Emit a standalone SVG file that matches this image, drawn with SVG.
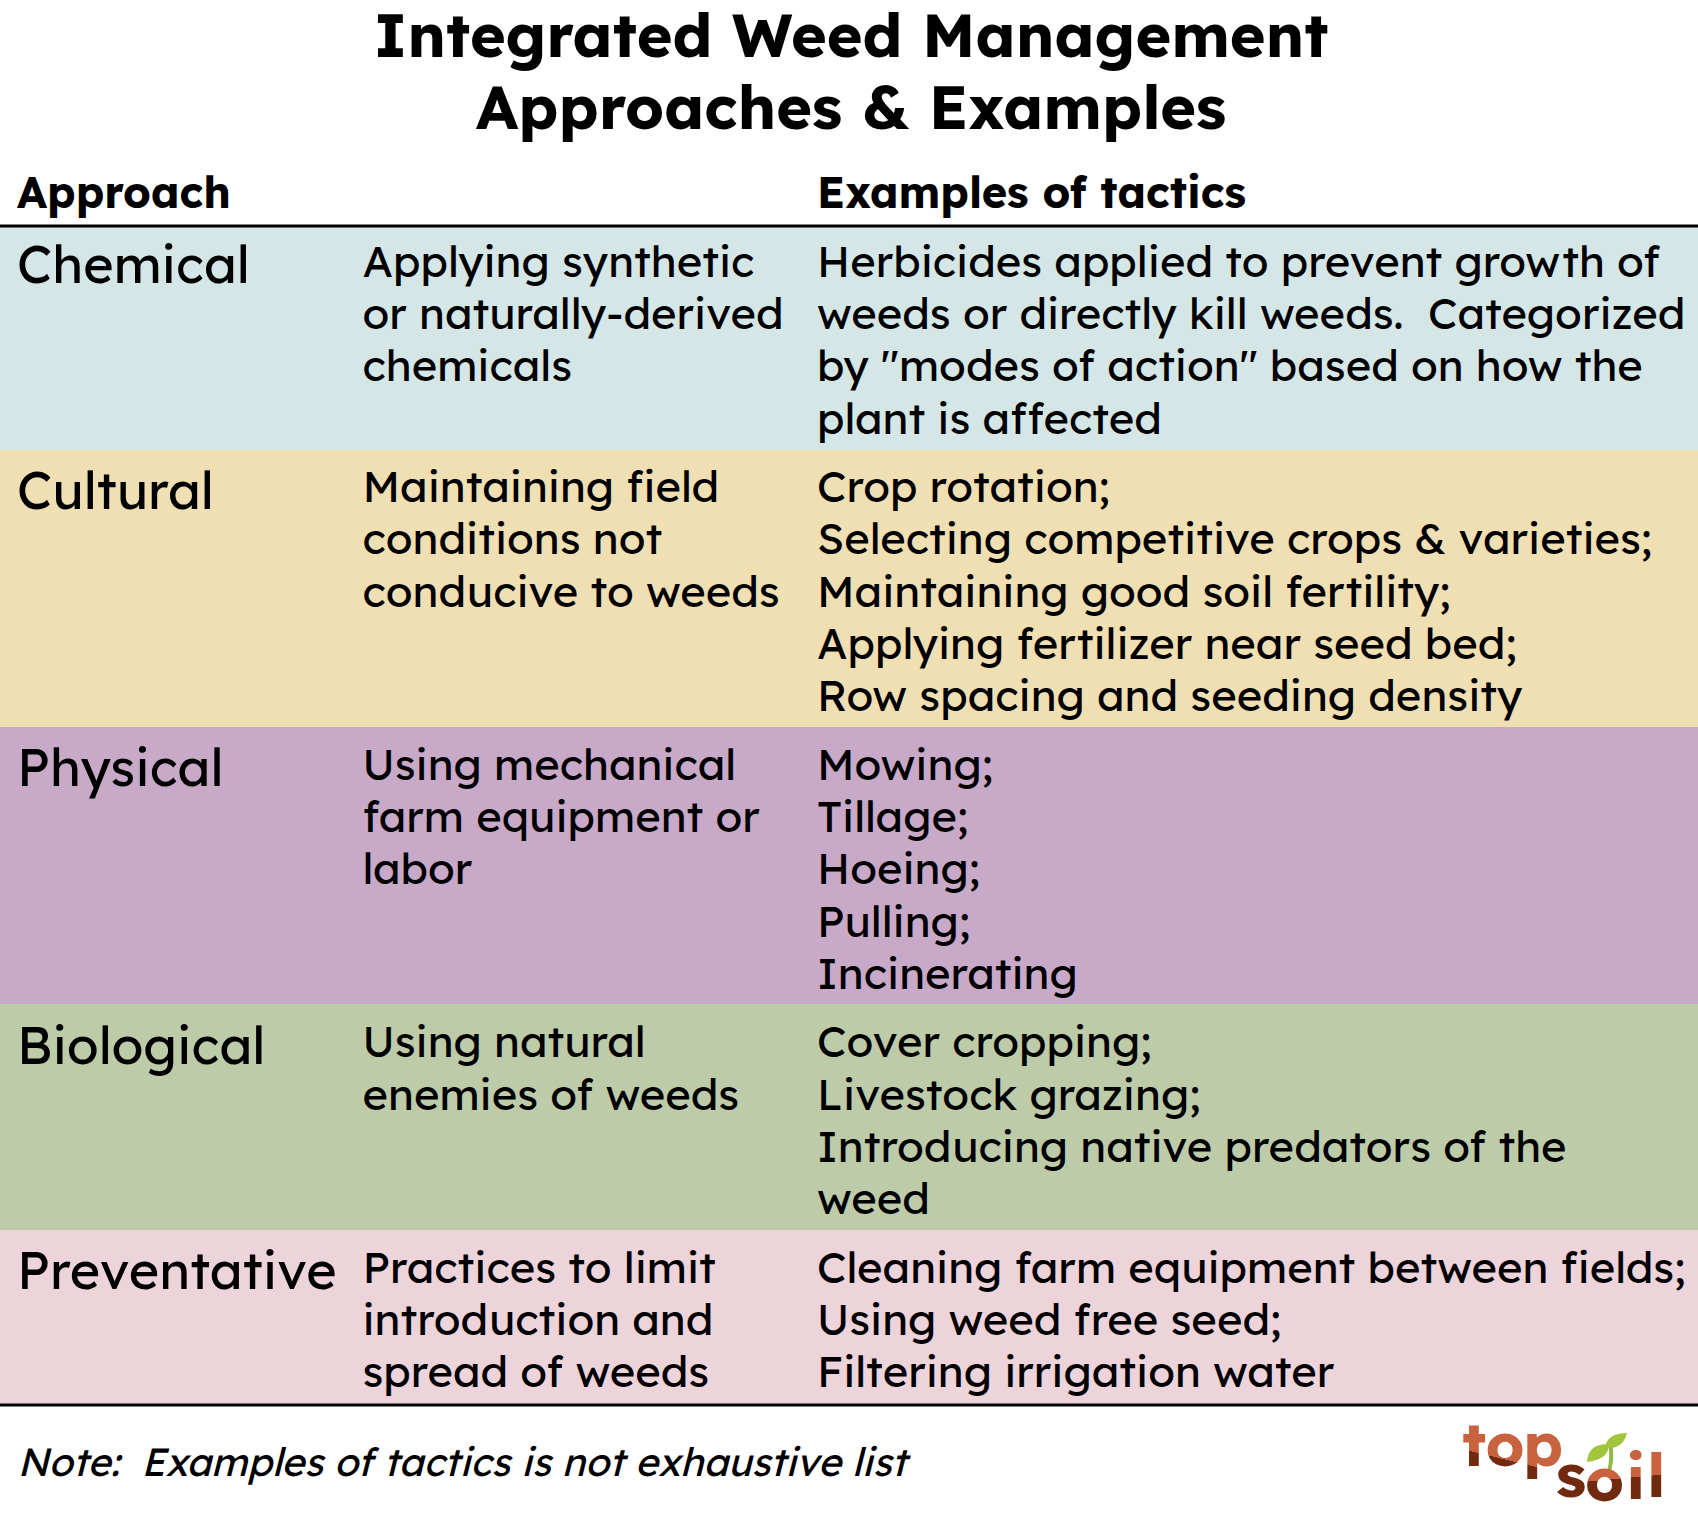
<svg xmlns="http://www.w3.org/2000/svg" width="1698" height="1520" viewBox="0 0 1698 1520">
<style>
text{font-family:"Lexend","Noto Sans","Open Sans",sans-serif;fill:#000}
.t{font-size:61px;font-weight:700;text-anchor:middle}
.h{font-size:43.4px;font-weight:700}
.a{font-size:52px}
.b{font-size:43.55px}
.n{font-size:39.2px;font-style:italic}
.rule{stroke:#000;stroke-width:3}
.logo{font-size:61px;font-weight:700}
.leaf{fill:#a3c53e}
</style>
<defs>
<linearGradient id="soilTop" gradientUnits="userSpaceOnUse" x1="1507" y1="1460" x2="1500" y2="1489"><stop offset="0" stop-color="#c8623f"/><stop offset="0" stop-color="#6f2a10"/></linearGradient>
<linearGradient id="soilOil" gradientUnits="userSpaceOnUse" x1="1625" y1="1478" x2="1627" y2="1500"><stop offset="0" stop-color="#c8623f"/><stop offset="0" stop-color="#6f2a10"/></linearGradient>
</defs>
<rect width="1698" height="1520" fill="#fff"/>
<text class="t" x="851" y="57">Integrated Weed Management</text>
<text class="t" x="851" y="129">Approaches &amp; Examples</text>
<text class="h" x="17" y="208">Approach</text>
<text class="h" x="817" y="208">Examples of tactics</text>
<rect y="226" width="1698" height="224" fill="#d5e6e6"/>
<rect y="450" width="1698" height="277" fill="#f0dfb2"/>
<rect y="727" width="1698" height="277" fill="#c8a9c8"/>
<rect y="1004" width="1698" height="226" fill="#bdcba8"/>
<rect y="1230" width="1698" height="175" fill="#edd3da"/>
<line class="rule" x1="0" y1="226" x2="1698" y2="226"/>
<line class="rule" x1="0" y1="1405" x2="1698" y2="1405"/>
<g id="chemical"><text class="a" x="17" y="283">Chemical</text>
<text class="b" x="362.5" y="276.5">Applying synthetic</text><text class="b" x="362.5" y="328.5">or naturally-derived</text><text class="b" x="362.5" y="380.5">chemicals</text>
<text class="b" x="817" y="276.5">Herbicides applied to prevent growth of</text><text class="b" x="817" y="328.5" xml:space="preserve">weeds or directly kill weeds.  Categorized</text><text class="b" x="817" y="380.5">by "modes of action" based on how the</text><text class="b" x="817" y="433.5">plant is affected</text></g>
<g id="cultural"><text class="a" x="17" y="509">Cultural</text>
<text class="b" x="362.5" y="501.5">Maintaining field</text><text class="b" x="362.5" y="553.5">conditions not</text><text class="b" x="362.5" y="606.5">conducive to weeds</text>
<text class="b" x="817" y="501.5">Crop rotation;</text><text class="b" x="817" y="553.5">Selecting competitive crops &amp; varieties;</text><text class="b" x="817" y="606.5">Maintaining good soil fertility;</text><text class="b" x="817" y="658.5">Applying fertilizer near seed bed;</text><text class="b" x="817" y="710.5">Row spacing and seeding density</text></g>
<g id="physical"><text class="a" x="17" y="786">Physical</text>
<text class="b" x="362.5" y="779.5">Using mechanical</text><text class="b" x="362.5" y="831.5">farm equipment or</text><text class="b" x="362.5" y="883.5">labor</text>
<text class="b" x="817" y="779.5">Mowing;</text><text class="b" x="817" y="831.5">Tillage;</text><text class="b" x="817" y="883.5">Hoeing;</text><text class="b" x="817" y="936.5">Pulling;</text><text class="b" x="817" y="988.5">Incinerating</text></g>
<g id="biological"><text class="a" x="17" y="1064">Biological</text>
<text class="b" x="362.5" y="1056.5">Using natural</text><text class="b" x="362.5" y="1109.5">enemies of weeds</text>
<text class="b" x="817" y="1056.5">Cover cropping;</text><text class="b" x="817" y="1109.5">Livestock grazing;</text><text class="b" x="817" y="1161.5">Introducing native predators of the</text><text class="b" x="817" y="1213.5">weed</text></g>
<g id="preventative"><text class="a" x="17" y="1289">Preventative</text>
<text class="b" x="362.5" y="1282.5">Practices to limit</text><text class="b" x="362.5" y="1334.5">introduction and</text><text class="b" x="362.5" y="1386.5">spread of weeds</text>
<text class="b" x="817" y="1282.5">Cleaning farm equipment between fields;</text><text class="b" x="817" y="1334.5">Using weed free seed;</text><text class="b" x="817" y="1386.5">Filtering irrigation water</text></g>
<text class="n" x="17.5" y="1475.5" xml:space="preserve">Note:  Examples of tactics is not exhaustive list</text>
<g id="logo">
<path d="M1609 1472C1612 1460 1612 1452 1610 1444" fill="none" stroke="#93b84a" stroke-width="4"/>
<path class="leaf" d="M1587 1462C1588 1450 1594 1444 1608 1444C1610 1452 1604 1460 1587 1462Z"/>
<path class="leaf" d="M1605 1448C1606 1438 1614 1433 1627 1433C1625 1442 1618 1450 1605 1448Z"/>
<text class="logo" x="1462 1485.5 1523" y="1466" style="fill:url(#soilTop)">top</text>
<text class="logo" x="1556 1585 1626 1647" y="1497 1501 1499 1497"><tspan style="fill:#6f2a10">s</tspan><tspan style="fill:url(#soilOil)">oil</tspan></text>
</g>
</svg>
